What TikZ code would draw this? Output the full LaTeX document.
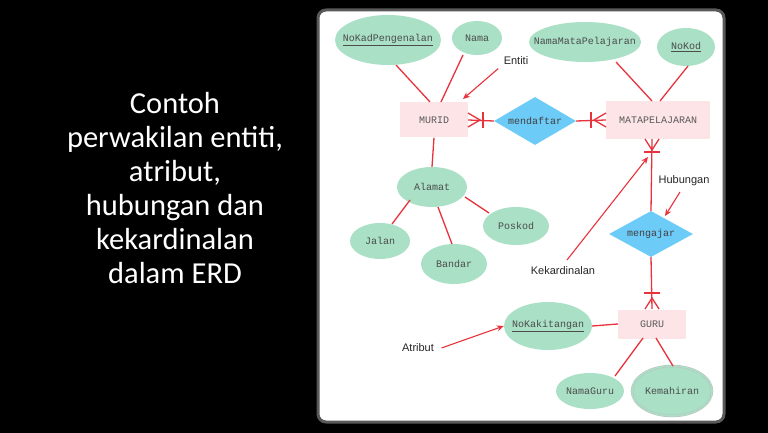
\documentclass[tikz,border=0pt]{standalone}
\usepackage{fontspec}
\setmainfont{Carlito}
\newfontfamily\monof{Liberation Mono}
\newfontfamily\lab{Liberation Sans}
\usetikzlibrary{shapes.geometric,arrows.meta}
\definecolor{mint}{HTML}{A9E0C6}
\definecolor{pinkbox}{HTML}{FDE4E7}
\definecolor{sky}{HTML}{6DCBF7}
\definecolor{lred}{HTML}{E8323C}
\tikzset{
 attr/.style={ellipse,fill=mint,inner sep=0pt,label={[font=\monof\fontsize{10}{11}\selectfont,text=black!70]center:#1}},
 ent/.style={rectangle,fill=pinkbox,font=\monof\fontsize{10}{11}\selectfont,text=black!65,inner sep=0pt},
 rel/.style={diamond,fill=sky,inner sep=0pt,label={[font=\monof\fontsize{10}{11}\selectfont,text=black!75]center:#1}},
 conn/.style={draw=lred,line width=1.3pt},
 callout/.style={draw=lred,line width=1.1pt,-{Stealth[length=7pt,width=6pt]}},
 lbl/.style={font=\lab\fontsize{11}{12}\selectfont,text=black!85}
}
\begin{document}
\begin{tikzpicture}[x=1pt,y=-1pt]
\fill[black] (0,0) rectangle (768,433);
\useasboundingbox (0,0) rectangle (768,433);
\fill[white,draw=black!65,line width=3pt,rounded corners=8pt] (318,10) rectangle (724,422);
\node[text=white,align=center,font=\fontsize{30.5}{34}\selectfont] (title) at (175,188) {Contoh\\perwakilan entiti,\\atribut,\\hubungan dan\\kekardinalan\\dalam ERD};
% nodes
\node[attr={\underline{NoKadPengenalan}},minimum width=106,minimum height=50] (nokad) at (388,40) {};
\node[attr=Nama,minimum width=50,minimum height=34] (nama) at (477,38) {};
\node[attr=NamaMataPelajaran,minimum width=112,minimum height=40] (namamp) at (585,42) {};
\node[attr={\underline{NoKod}},minimum width=58,minimum height=38] (nokod) at (686,47) {};
\node[ent,minimum width=68,minimum height=35] (murid) at (434,120) {MURID};
\node[rel=mendaftar,minimum width=82,minimum height=48] (daftar) at (535,121) {};
\node[ent,minimum width=104,minimum height=38] (mp) at (658,120) {MATAPELAJARAN};
\node[attr=Alamat,minimum width=70,minimum height=40] (alamat) at (432,187) {};
\node[attr=Jalan,minimum width=60,minimum height=36] (jalan) at (380,241) {};
\node[attr=Bandar,minimum width=66,minimum height=40] (bandar) at (454,264) {};
\node[attr=Poskod,minimum width=66,minimum height=38] (poskod) at (516,226) {};
\node[rel=mengajar,minimum width=84,minimum height=46] (ajar) at (651,234) {};
\node[ent,minimum width=68,minimum height=29] (guru) at (652,324) {GURU};
\node[attr={\underline{NoKakitangan}},minimum width=88,minimum height=48] (nokt) at (548,326) {};
\node[attr=NamaGuru,minimum width=68,minimum height=36] (namaguru) at (590,391) {};
\node[attr=Kemahiran,minimum width=80,minimum height=50,draw=black!25,double=mint,double distance=1.5pt,line width=0.5pt] (kem) at (672,391) {};
% labels
\node[lbl] (lent) at (516,61) {Entiti};
\node[lbl] (lhub) at (684,181) {Hubungan};
\node[lbl] (lkek) at (563,271) {Kekardinalan};
\node[lbl] (latr) at (418,348) {Atribut};
% attribute lines
\draw[conn] (396,65) -- (430,102);
\draw[conn] (463,55) -- (441,102);
\draw[conn] (616,62) -- (652,101);
\draw[conn] (688,66) -- (660,101);
\draw[conn] (murid.south) -- (alamat.north);
\draw[conn] (410,200) -- (392,224);
\draw[conn] (438,207) -- (452,244);
\draw[conn] (465,197) -- (489,213);
\draw[conn] (643,338) -- (615,376);
\draw[conn] (656,338) -- (673,366);
\draw[conn] (nokt.east) -- (guru.west);
% relationships with crow's feet
\draw[conn] (murid.east) -- (daftar.west);
\draw[conn] (468,113) -- (480,120) -- (468,127);
\draw[conn] (483,112) -- (483,128);
\draw[conn] (daftar.east) -- (mp.west);
\draw[conn] (606,113) -- (594,120) -- (606,127);
\draw[conn] (591,112) -- (591,128);
\draw[conn] (652,139) -- (ajar.north);
\draw[conn] (645,139) -- (652,150) -- (659,139);
\draw[conn] (644,152) -- (660,152);
\draw[conn] (ajar.south) -- (652,309);
\draw[conn] (645,309) -- (652,298) -- (659,309);
\draw[conn] (644,293) -- (660,293);
% callouts
\draw[callout] (lent.south west) ++(-2,0) -- (463,99);
\draw[callout] (680,192) -- (665,216);
\draw[callout] (567,260) -- (648,157);
\draw[callout] (latr.east) ++(4,0) -- (nokt.west);
\end{tikzpicture}
\end{document}
